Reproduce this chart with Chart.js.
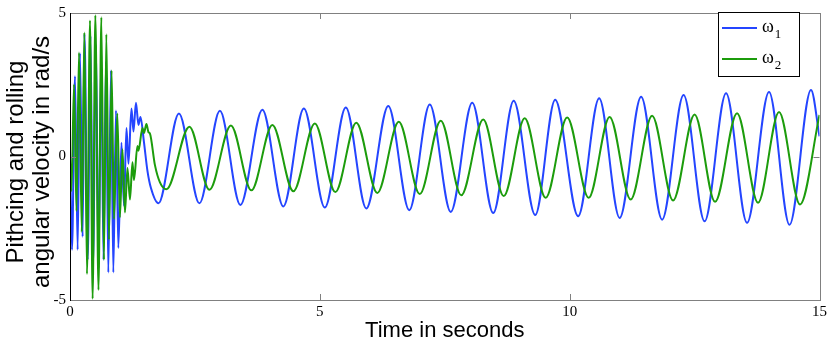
<!DOCTYPE html>
<html>
<head>
<meta charset="utf-8">
<script src="https://cdn.jsdelivr.net/npm/chart.js@4.4.1/dist/chart.umd.min.js"></script>
<style>
  body { margin: 0; background: #fff; }
  #wrap { width: 830px; height: 355px; }
</style>
</head>
<body>
<div id="wrap"><canvas id="omegaChart" width="830" height="355"></canvas></div>
<script>
// values (time in s, angular velocity in rad/s)
var seriesNames = ['ω1', 'ω2'];
var yTitle = ['Pithcing and rolling', 'angular velocity in rad/s'];
var xTicks = [0, 5, 10, 15];
var yTicks = [-5, 0, 5];

var blueTime = [0.00, 0.04, 0.10, 0.153, 0.20, 0.253, 0.29, 0.355, 0.41, 0.46, 0.52, 0.57, 0.625, 0.67, 0.72,
  0.767, 0.82, 0.867, 0.92, 0.967, 1.03, 1.08, 1.13, 1.17, 1.23, 1.27, 1.32, 1.37, 1.41, 1.48, 1.55, 1.62, 1.77,
  2.18, 2.59, 3.00, 3.41, 3.85, 4.27, 4.68, 5.10, 5.52, 5.93, 6.37, 6.79, 7.20, 7.62, 8.05, 8.47, 8.88, 9.31,
  9.71, 10.17, 10.59, 11.00, 11.43, 11.85, 12.28, 12.70, 13.13, 13.55, 13.99, 14.40, 14.83, 15.00];
var blueValue = [0.3, -3.25, 2.8, -3.25, 3.6, -2.8, 4.27, -3.6, 4.2, -3.8, 3.9, -3.9, 3.5, -3.6, 3.3,
  -4.04, 3.0, -4.04, 1.6, -3.19, 0.48, -1.72, 0.99, -0.25, 1.67, 0.87, 1.87, 1.10, 1.38, 0.5, -0.5, -1.1, -1.63,
  1.50, -1.63, 1.59, -1.69, 1.63, -1.74, 1.67, -1.78, 1.71, -1.81, 1.76, -1.87, 1.81, -1.93, 1.87, -1.97, 1.94, -2.04,
  1.98, -2.08, 2.03, -2.14, 2.08, -2.20, 2.14, -2.26, 2.20, -2.31, 2.25, -2.38, 2.32, 0.7];

var greenTime = [0.00, 0.03, 0.08, 0.13, 0.18, 0.235, 0.287, 0.34, 0.40, 0.453, 0.507, 0.57, 0.627, 0.68, 0.727,
  0.78, 0.833, 0.88, 0.947, 1.00, 1.05, 1.10, 1.15, 1.20, 1.25, 1.28, 1.35, 1.37, 1.45, 1.48, 1.53, 1.57, 1.60,
  1.70, 1.80, 1.93,
  2.39, 2.79, 3.22, 3.63, 4.05, 4.47, 4.90, 5.31, 5.73, 6.15, 6.58, 7.00, 7.42, 7.83, 8.27, 8.68, 9.10, 9.52,
  9.95, 10.38, 10.80, 11.22, 11.65, 12.07, 12.50, 12.91, 13.35, 13.77, 14.19, 14.61, 15.00];
var greenValue = [0.0, -1.2, 2.51, -1.9, 3.62, -2.63, 4.32, -4.09, 4.74, -4.96, 4.92, -4.65, 4.85, -3.6, 4.26,
  -2.9, 3.0, -2.18, 1.50, -2.12, 0.25, -1.95, -0.4, -1.50, -0.2, -0.82, 0.37, 0.2, 0.99, 0.82, 1.13, 0.85, 0.8,
  -0.3, -0.9, -1.14,
  1.04, -1.16, 1.08, -1.18, 1.10, -1.21, 1.15, -1.24, 1.18, -1.27, 1.21, -1.31, 1.25, -1.35, 1.29, -1.38, 1.33, -1.44,
  1.36, -1.44, 1.38, -1.50, 1.42, -1.53, 1.46, -1.58, 1.51, -1.61, 1.55, -1.67, 1.45];

function toPoints(ts, vs) {
  var pts = [];
  for (var i in ts) pts.push({x: ts[i], y: vs[i]});
  return pts;
}

// MATLAB-like box, inward ticks, y label and framed legend
var boxPlugin = {
  id: 'boxPlugin',
  afterDraw: function(chart) {
    var ctx = chart.ctx, a = chart.chartArea;
    var xs = chart.scales.x, ys = chart.scales.y;
    ctx.save();
    ctx.lineWidth = 1;
    ctx.strokeStyle = '#808080';
    xTicks.forEach(function(v) {
      var px = Math.round(xs.getPixelForValue(v)) + 0.5;
      ctx.beginPath();
      ctx.moveTo(px, a.bottom); ctx.lineTo(px, a.bottom - 6);
      ctx.moveTo(px, a.top); ctx.lineTo(px, a.top + 6);
      ctx.stroke();
    });
    yTicks.forEach(function(v) {
      var py = Math.round(ys.getPixelForValue(v)) + 0.5;
      ctx.beginPath();
      ctx.moveTo(a.left, py); ctx.lineTo(a.left + 6, py);
      ctx.moveTo(a.right, py); ctx.lineTo(a.right - 6, py);
      ctx.stroke();
    });
    ctx.strokeRect(Math.round(a.left) + 0.5, Math.round(a.top) + 0.5,
      Math.round(a.right - a.left), Math.round(a.bottom - a.top));
    ctx.strokeStyle = '#000';
    ctx.beginPath();
    ctx.moveTo(Math.round(a.left) + 0.5, a.top);
    ctx.lineTo(Math.round(a.left) + 0.5, a.bottom + 1);
    ctx.stroke();

    // y axis label, two lines, a bit below the plot centre like the original
    ctx.save();
    ctx.translate(0, 162);
    ctx.rotate(-Math.PI / 2);
    ctx.fillStyle = '#000';
    ctx.font = '24px "Liberation Sans"';
    ctx.textAlign = 'center';
    ctx.textBaseline = 'middle';
    ctx.fillText(yTitle[0], 0, 16);
    ctx.fillText(yTitle[1], 0, 42);
    ctx.restore();

    // legend
    var lx = 718, ly = 12, lw = 81, lh = 64;
    ctx.fillStyle = '#fff';
    ctx.fillRect(lx, ly, lw, lh);
    ctx.strokeStyle = '#000';
    ctx.strokeRect(lx + 0.5, ly + 0.5, lw, lh);
    chart.data.datasets.forEach(function(ds, i) {
      var cy = ly + 16 + i * 31;
      ctx.strokeStyle = ds.borderColor;
      ctx.lineWidth = 2;
      ctx.beginPath();
      ctx.moveTo(lx + 4, cy); ctx.lineTo(lx + 39, cy);
      ctx.stroke();
      ctx.fillStyle = '#000';
      ctx.textBaseline = 'alphabetic';
      ctx.textAlign = 'left';
      ctx.font = '18px "Liberation Serif"';
      ctx.fillText(ds.label.charAt(0), lx + 44, cy + 4);
      var w = ctx.measureText(ds.label.charAt(0)).width;
      ctx.font = '13px "Liberation Serif"';
      ctx.fillText(ds.label.slice(1), lx + 45 + w, cy + 10);
    });
    ctx.restore();
  }
};

var ctx = document.getElementById('omegaChart').getContext('2d');
var omegaChart = new Chart(ctx, {
  type: 'line',
  data: {
    datasets: [{
      label: seriesNames[0],
      data: toPoints(blueTime, blueValue),
      borderColor: '#2445ff',
      borderWidth: 2,
      pointRadius: 0,
      cubicInterpolationMode: 'monotone',
      order: 1
    }, {
      label: seriesNames[1],
      data: toPoints(greenTime, greenValue),
      borderColor: '#1c9c0c',
      borderWidth: 2,
      pointRadius: 0,
      cubicInterpolationMode: 'monotone',
      order: 0
    }]
  },
  options: {
    responsive: false,
    animation: false,
    layout: { padding: { top: 5, right: 10, left: 0, bottom: 0 } },
    plugins: { legend: { display: false }, tooltip: { enabled: false } },
    scales: {
      x: {
        type: 'linear', min: 0, max: 15,
        grid: { display: false, drawTicks: false },
        border: { display: false },
        afterBuildTicks: function(s) { s.ticks = xTicks.map(function(v) { return {value: v}; }); },
        afterFit: function(s) { s.height = 55; },
        ticks: { color: '#000', padding: 3, maxRotation: 0, font: { family: 'Liberation Serif', size: 15 } },
        title: {
          display: true, text: 'Time in seconds', color: '#000',
          font: { family: 'Liberation Sans', size: 22, lineHeight: 1.1 },
          padding: { top: 0, bottom: 12 }
        }
      },
      y: {
        type: 'linear', min: -5, max: 5,
        grid: { display: false, drawTicks: false },
        border: { display: false },
        afterBuildTicks: function(s) { s.ticks = yTicks.map(function(v) { return {value: v}; }); },
        afterFit: function(s) { s.width = 70; },
        ticks: { color: '#000', padding: 4, font: { family: 'Liberation Serif', size: 15 } }
      }
    }
  },
  plugins: [boxPlugin]
});
</script>
</body>
</html>
